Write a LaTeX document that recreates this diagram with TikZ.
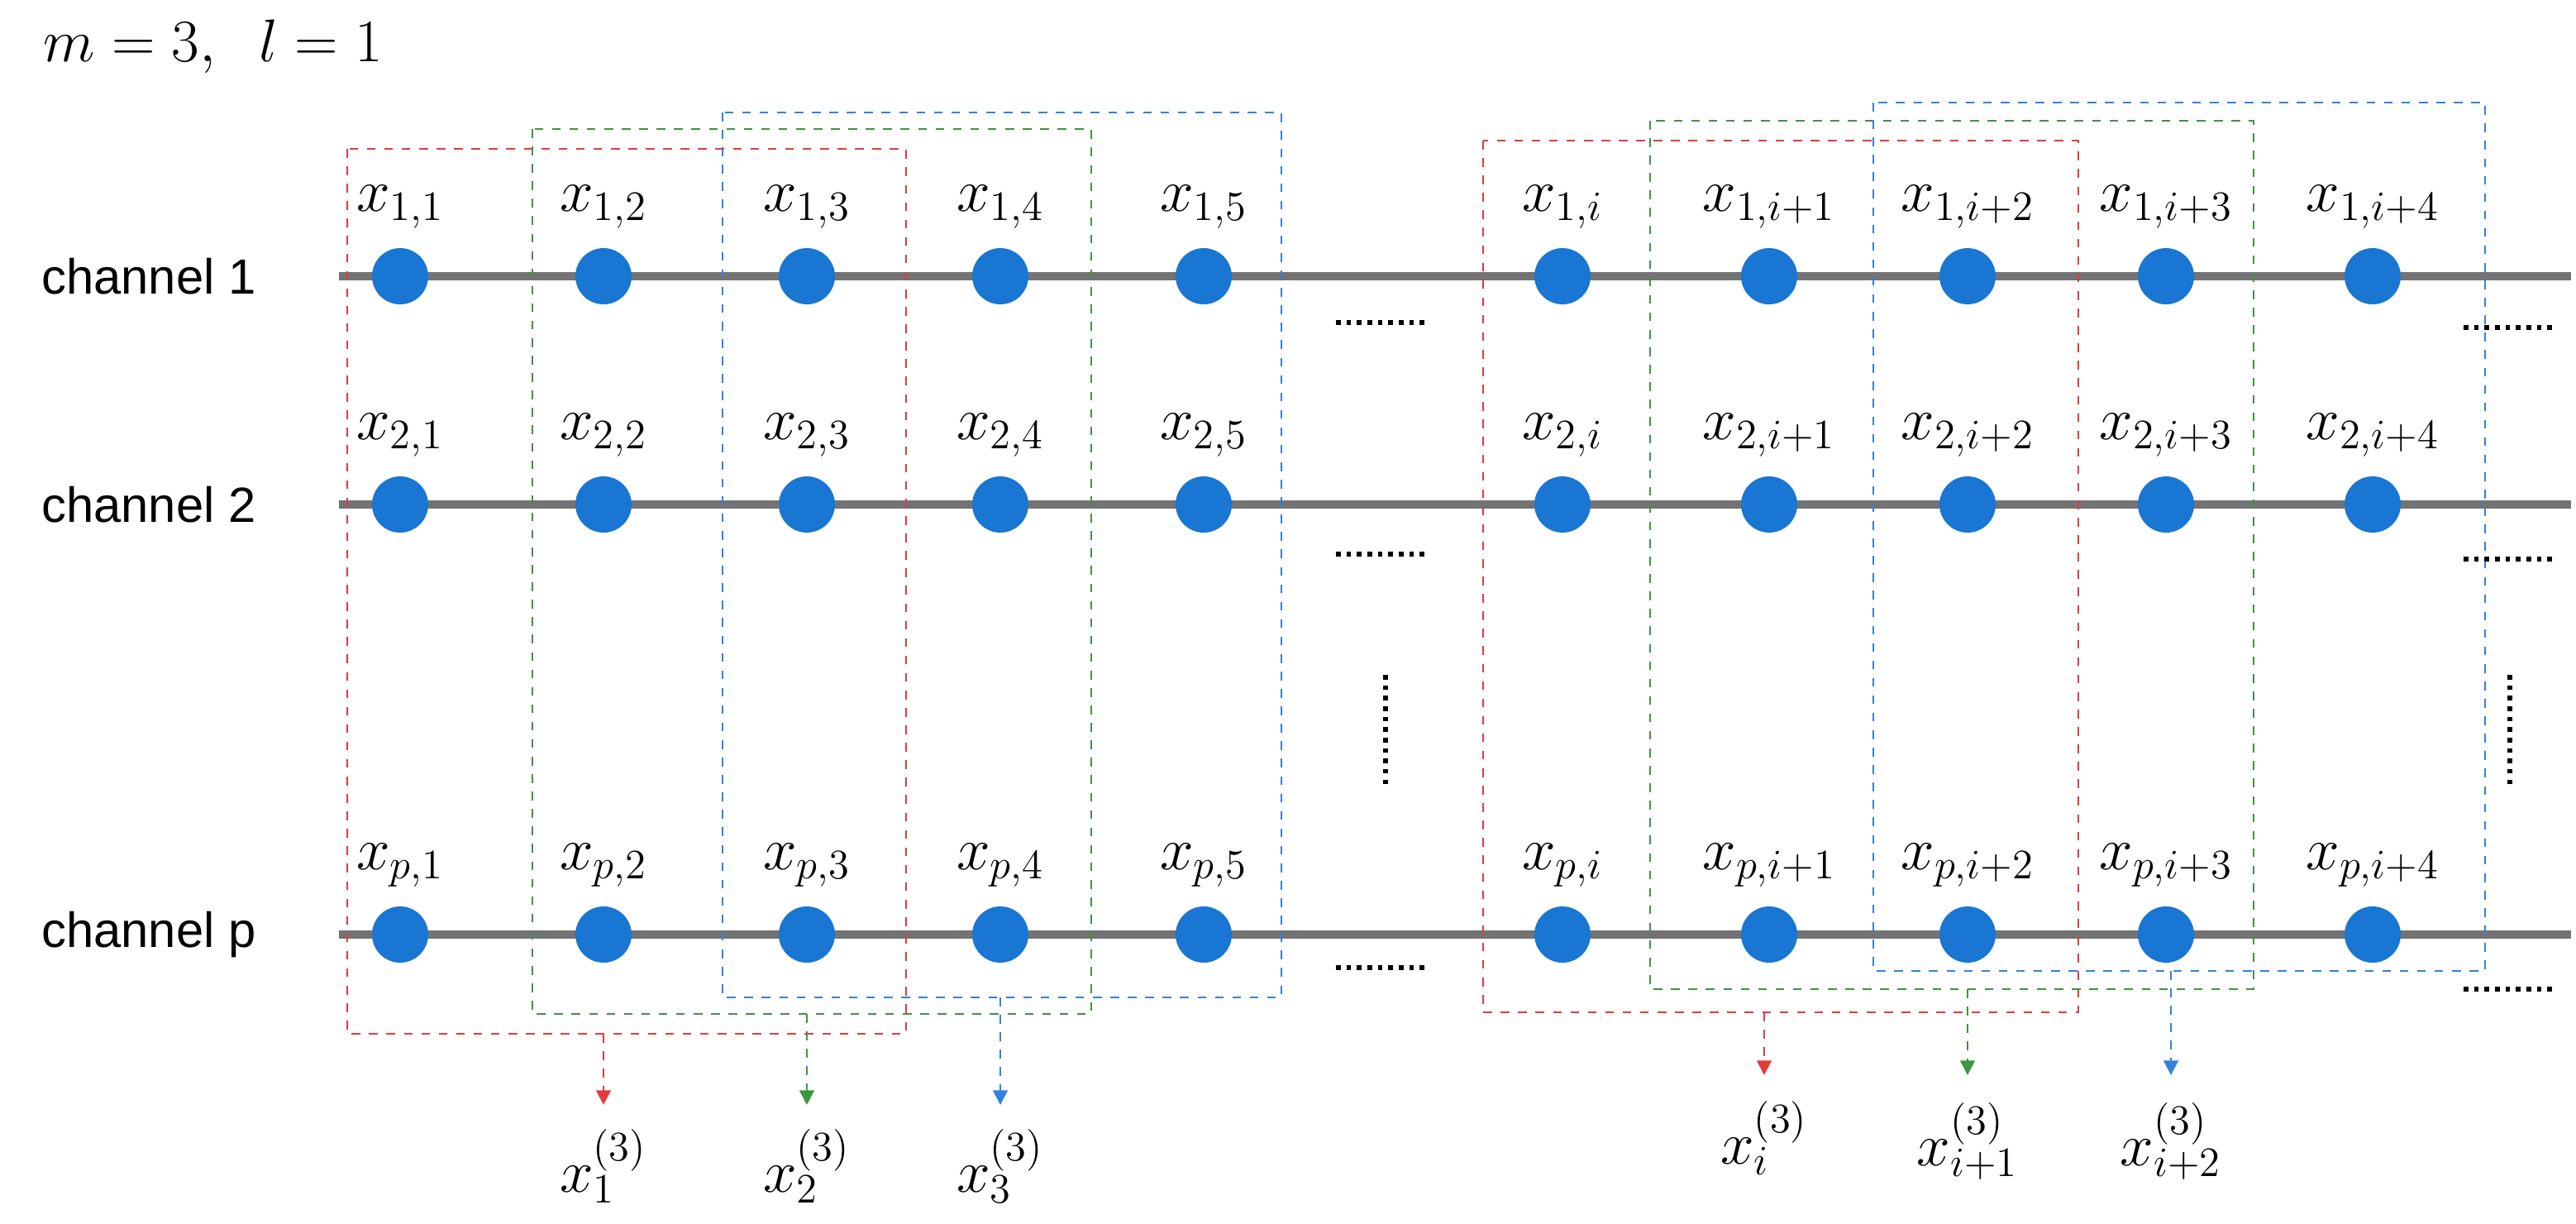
\documentclass[tikz,border=0pt]{standalone}
\usepackage{fontspec}
\setsansfont{Liberation Sans}
\usetikzlibrary{arrows.meta}
\definecolor{dotc}{RGB}{25,118,210}
\definecolor{rc}{RGB}{225,60,60}
\definecolor{gc}{RGB}{60,150,60}
\definecolor{bc}{RGB}{50,130,220}
\begin{document}
\begin{tikzpicture}[x=0.02cm,y=-0.02cm,
  dot/.style={circle,fill=dotc,inner sep=0,minimum size=0.68cm},
  lab/.style={font=\fontsize{20}{24}\selectfont},
  chan/.style={font=\sffamily\fontsize{17}{20}\selectfont},
  box/.style={dashed,line width=0.8pt},
  arr/.style={dashed,line width=0.8pt,-{Triangle[length=5pt,width=5pt]}},
  hd/.style={dotted,line width=1.6pt}]
\useasboundingbox (0,0) rectangle (1558,740);
\node[lab,anchor=west] (title) at (20,28) {$m=3,\;\; l=1$};
% channel lines
\foreach \r/\y/\t in {1/167/1, 2/305/2, p/565/p}{
  \node[chan] (ch\r) at (90,\y) {channel \t};
  \draw[line width=3pt,gray!90!black] (205,\y) coordinate (L\r) -- (1555,\y) coordinate (R\r);
}
% dots and labels
\foreach \r/\y in {1/167,2/305,p/565}{
  \foreach \x/\c in {242/1,365/2,488/3,605/4,728/5,945/i,1070/{i+1},1190/{i+2},1310/{i+3},1435/{i+4}}{
    \node[dot] (d\r\x) at (\x,\y) {};
    \node[lab] (t\r\x) at (\x,\y-42) {$x_{\r,\c}$};
  }
}
% boxes
\draw[box,rc] (210,90) rectangle (548,625);
\draw[box,gc] (322,78) rectangle (660,613);
\draw[box,bc] (437,68) rectangle (775,603);
\draw[box,rc] (897,85) rectangle (1257,612);
\draw[box,gc] (998,73) rectangle (1363,598);
\draw[box,bc] (1133,62) rectangle (1503,587);
% outputs
\coordinate (a1) at (365,625); \node[lab] (o1) at (365,705) {$x_1^{(3)}$};
\coordinate (a2) at (488,613); \node[lab] (o2) at (488,705) {$x_2^{(3)}$};
\coordinate (a3) at (605,603); \node[lab] (o3) at (605,705) {$x_3^{(3)}$};
\coordinate (a4) at (1067,612); \node[lab] (o4) at (1067,688) {$x_i^{(3)}$};
\coordinate (a5) at (1190,598); \node[lab] (o5) at (1190,690) {$x_{i+1}^{(3)}$};
\coordinate (a6) at (1313,587); \node[lab] (o6) at (1313,690) {$x_{i+2}^{(3)}$};
\draw[arr,rc] (a1) -- (365,668);
\draw[arr,gc] (a2) -- (488,668);
\draw[arr,bc] (a3) -- (605,668);
\draw[arr,rc] (a4) -- (1067,650);
\draw[arr,gc] (a5) -- (1190,650);
\draw[arr,bc] (a6) -- (1313,650);
% ellipses
\foreach \y in {195,335,585}{\draw[hd] (808,\y) -- (862,\y);}
\foreach \y in {198,338,598}{\draw[hd] (1490,\y) -- (1545,\y);}
\draw[hd] (838,408) -- (838,475);
\draw[hd] (1518,408) -- (1518,475);
\end{tikzpicture}
\end{document}
